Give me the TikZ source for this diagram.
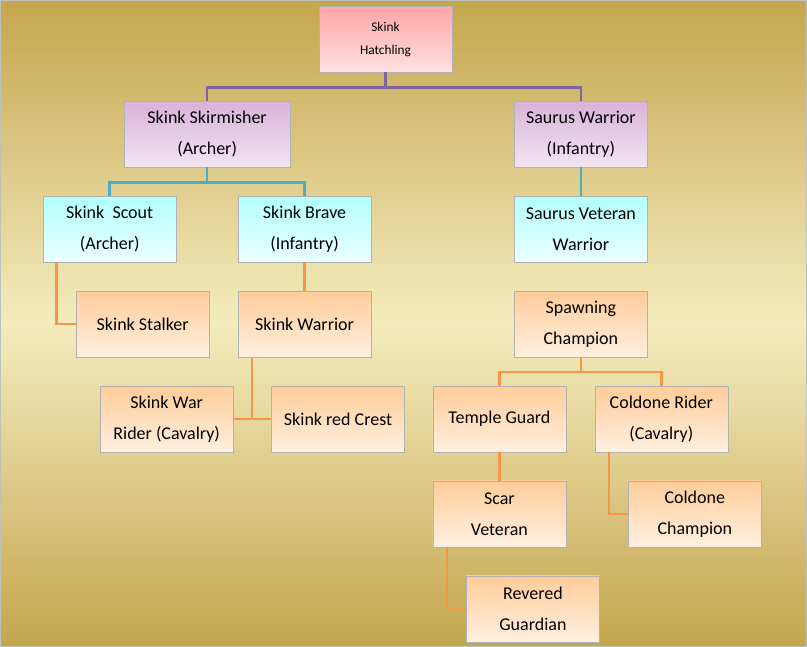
\documentclass[tikz,border=0pt]{standalone}
\usepackage{fontspec}
\setmainfont{Carlito}
\usetikzlibrary{positioning,calc}
\definecolor{goldedge}{RGB}{196,166,78}
\definecolor{goldmid}{RGB}{244,236,190}
\definecolor{linepurple}{RGB}{128,100,162}
\definecolor{lineteal}{RGB}{75,172,198}
\definecolor{lineorange}{RGB}{247,150,70}
\begin{document}
\begin{tikzpicture}[x=0.75pt,y=-0.75pt,
  every node/.style={draw=gray!60,align=center,minimum width=99.75pt,minimum height=49.5pt,inner sep=1pt,
    font=\fontsize{13.5}{23.5}\selectfont},
  link/.style={line width=1.8pt}]
  \tikzstyle{top} = [top color=red!35,bottom color=red!12,font=\fontsize{10}{17}\selectfont]
  \tikzstyle{upper} = [top color=violet!30,bottom color=violet!10]
  \tikzstyle{middle} = [top color=cyan!30,bottom color=cyan!8]
  \tikzstyle{lower} = [top color=orange!40,bottom color=orange!12]
  % background
  \shade[top color=goldedge,bottom color=goldedge,middle color=goldmid,draw=gray!50] (0,0) rectangle (807,646);
  % boxes
  \node (hatch) [top] at (385.5,39) {Skink\\Hatchling};
  \node (skirm) [upper,minimum width=124.5pt] at (207,134) {Skink Skirmisher\\(Archer)};
  \node (saurus) [upper] at (581,134) {Saurus Warrior\\(Infantry)};
  \node (scout) [middle] at (109.5,229) {Skink\ \ Scout\\(Archer)};
  \node (brave) [middle] at (304.5,229) {Skink Brave\\(Infantry)};
  \node (veteran) [middle] at (581,229) {Saurus Veteran\\Warrior};
  \node (stalker) [lower] at (142.5,324) {Skink Stalker};
  \node (warrior) [lower] at (304.5,324) {Skink Warrior};
  \node (spawn) [lower] at (581,324) {Spawning\\Champion};
  \node (rider) [lower] at (166.5,419) {Skink War\\Rider (Cavalry)};
  \node (crest) [lower] at (338,419) {Skink red Crest};
  \node (guard) [lower] at (499.5,419) {Temple Guard};
  \node (cold) [lower] at (661.5,419) {Coldone Rider\\(Cavalry)};
  \node (scar) [lower] at (499.5,514) {Scar\\Veteran};
  \node (coldchamp) [lower] at (695,514) {Coldone\\Champion};
  \node (revered) [lower] at (533,609) {Revered\\Guardian};
  % connectors
  \draw[link,linepurple] (hatch.south) |- ++(0,15) -| (skirm.north);
  \draw[link,linepurple] (hatch.south) |- ++(0,15) -| (saurus.north);
  \draw[link,lineteal] (skirm.south) |- ++(0,15) -| (scout.north);
  \draw[link,lineteal] (skirm.south) |- ++(0,15) -| (brave.north);
  \draw[link,lineteal] (saurus) -- (veteran);
  \draw[link,lineorange] ([xshift=-40pt]scout.south) |- (stalker.west);
  \draw[link,lineorange] (brave) -- (warrior);
  \draw[link,lineorange] ([xshift=-39.5pt]warrior.south) |- (rider.east);
  \draw[link,lineorange] ([xshift=-39.5pt]warrior.south) |- (crest.west);
  \draw[link,lineorange] (spawn.south) |- ++(0,15) -| (guard.north);
  \draw[link,lineorange] (spawn.south) |- ++(0,15) -| (cold.north);
  \draw[link,lineorange] (guard) -- (scar);
  \draw[link,lineorange] ([xshift=-39.5pt]scar.south) |- (revered.west);
  \draw[link,lineorange] ([xshift=-39.5pt]cold.south) |- (coldchamp.west);
\end{tikzpicture}
\end{document}
